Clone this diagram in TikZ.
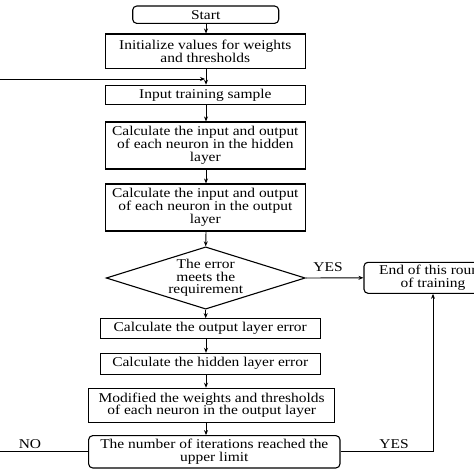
\documentclass[tikz,border=0pt]{standalone}
\usepackage{fontspec}
\setmainfont{Liberation Serif}[FakeStretch=1.15]
\usetikzlibrary{shapes.geometric,arrows.meta}
\begin{document}
\begin{tikzpicture}[x=1bp,y=-1bp,
  txt/.style={font=\fontsize{13.5}{12.8}\selectfont},
  box/.style={draw,line width=1.1bp,inner sep=0pt,align=center,txt},
  rbox/.style={box,rounded corners=4bp},
  dia/.style={draw,line width=1.1bp,diamond,aspect=3.2,inner sep=0pt,align=center,txt},
  lbl/.style={txt},
  arr/.style={line width=0.9bp,-{Stealth[length=5bp,width=4bp]}},
  ln/.style={line width=0.9bp}]
\useasboundingbox (0,0) rectangle (474,474);
\clip (0,0) rectangle (474,474);
\coordinate (col) at (206,0);
\node[rbox,minimum width=146bp,minimum height=17.3bp] (start) at (205.7,14.7) {Start};
\node[box,minimum width=200bp,minimum height=34.3bp] (init) at (205.3,51.2) {Initialize values for weights\\and thresholds};
\node[box,minimum width=200bp,minimum height=19.4bp] (input) at (205.3,95) {Input training sample};
\node[box,minimum width=200bp,minimum height=47bp] (hid) at (205.3,145.5) {Calculate the input and output\\of each neuron in the hidden\\layer};
\node[box,minimum width=200bp,minimum height=47bp] (out) at (205.3,207.5) {Calculate the input and output\\of each neuron in the output\\layer};
\node[dia,minimum width=199bp,minimum height=62.3bp] (err) at (205.7,278) {The error\\meets the\\requirement};
\node[rbox,minimum width=138bp,minimum height=31bp] (end) at (433,277.8) {End of this round\\of training};
\node[box,minimum width=219.7bp,minimum height=19.6bp] (oerr) at (210.2,328.5) {Calculate the output layer error};
\node[box,minimum width=219.7bp,minimum height=20.7bp] (herr) at (210.2,363.7) {Calculate the hidden layer error};
\node[box,minimum width=246bp,minimum height=34bp] (mod) at (211.7,405.3) {Modified the weights and thresholds\\of each neuron in the output layer};
\node[rbox,minimum width=251.3bp,minimum height=32.3bp] (iter) at (214.3,451.8) {The number of iterations reached the\\upper limit};
\coordinate (loopL) at (-3,451.8);
\coordinate (loopT) at (-3,79);
\coordinate (loopE) at (205,79);
\draw[arr] (start.south -| col) -- (init.north -| col);
\draw[arr] (init.south -| col) -- (input.north -| col);
\draw[arr] (input.south -| col) -- (hid.north -| col);
\draw[arr] (hid.south -| col) -- (out.north -| col);
\draw[arr] (out.south -| col) -- (err.north);
\draw[arr] (err.south) -- (oerr.north -| err.south);
\draw[arr] (oerr.south -| col) -- (herr.north -| col);
\draw[arr] (herr.south -| col) -- (mod.north -| col);
\draw[arr] (mod.south -| col) -- (iter.north -| col);
\draw[arr] (err.east) -- (end.west);
\node[lbl] (yes1) at (328,267) {YES};
\draw[arr] (iter.east) -| (end.south);
\node[lbl] (yes2) at (394,444) {YES};
\draw[arr] (iter.west) -- (loopL) -- (loopT) -- (loopE);
\node[lbl] (no) at (30,444) {NO};
\end{tikzpicture}
\end{document}
